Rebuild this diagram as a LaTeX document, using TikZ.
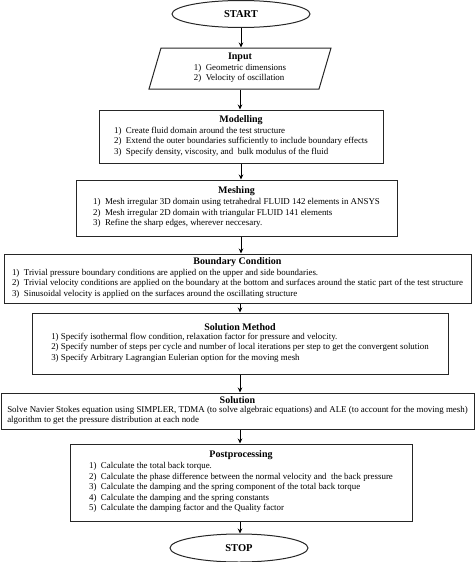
\documentclass[tikz,border=0pt]{standalone}
\usepackage{fontspec}
\setmainfont{Liberation Serif}
\usetikzlibrary{shapes.geometric,arrows.meta}
\begin{document}
\begin{tikzpicture}[x=1pt,y=-1pt,
  box/.style={draw=black!85,line width=1pt,rectangle,inner sep=0pt,align=center,
    font=\fontsize{8.9}{10.5}\selectfont},
  term/.style={draw=black!85,line width=1pt,ellipse,inner sep=0pt,
    font=\fontsize{10.5}{11}\selectfont\bfseries},
  flow/.style={line width=0.8pt,-{Stealth[length=5pt,width=4.5pt]}}]
\newcommand{\ttl}[1]{{\fontsize{10}{11}\selectfont\bfseries #1}\\[0.5pt]}
\useasboundingbox (0,0) rectangle (474,562);
\node[term,minimum width=138pt,minimum height=27pt] (start) at (241,14) {START};
\node[box,draw=none,minimum width=170pt,minimum height=41pt] (input) at (240,68.5)
  {\ttl{Input}
   \begin{tabular}{@{}l@{}}1)\ \ Geometric dimensions\\2)\ \ Velocity of oscillation\end{tabular}};
\draw[draw=black!85,line width=1pt] (161,48) -- (331,48) -- (319,89) -- (149,89) -- cycle;
\node[box,minimum width=284pt,minimum height=53pt] (model) at (241,136.5)
  {\ttl{Modelling}
   \begin{tabular}{@{}l@{}}1)\ \ Create fluid domain around the test structure\\
   2)\ \ Extend the outer boundaries sufficiently to include boundary effects\\
   3)\ \ Specify density, viscosity, and\ \ bulk modulus of the fluid\end{tabular}};
\node[box,minimum width=321pt,minimum height=56pt] (mesh) at (236.5,208)
  {\ttl{Meshing}
   \begin{tabular}{@{}l@{}}1)\ \ Mesh irregular 3D domain using tetrahedral FLUID 142 elements in ANSYS\\
   2)\ \ Mesh irregular 2D domain with triangular FLUID 141 elements\\
   3)\ \ Refine the sharp edges, wherever neccesary.\end{tabular}};
\node[box,minimum width=467pt,minimum height=49pt] (bc) at (237.5,278.5)
  {\ttl{Boundary Condition}
   \begin{tabular}{@{}l@{}}1)\ \ Trivial pressure boundary conditions are applied on the upper and side boundaries.\\
   2)\ \ Trivial velocity conditions are applied on the boundary at the bottom and surfaces around the static part of the test structure\\
   3)\ \ Sinusoidal velocity is applied on the surfaces around the oscillating structure\end{tabular}};
\node[box,minimum width=416pt,minimum height=61pt] (sm) at (240,343.5)
  {\ttl{Solution Method}
   \begin{tabular}{@{}l@{}}1) Specify isothermal flow condition, relaxation factor for pressure and velocity.\\
   2) Specify number of steps per cycle and number of local iterations per step to get the convergent solution\\
   3) Specify Arbitrary Lagrangian Eulerian option for the moving mesh\end{tabular}};
\node[box,minimum width=473pt,minimum height=36pt] (sol) at (237.5,411)
  {{\fontsize{10}{10}\selectfont\bfseries Solution}\\[0pt]
   \begin{tabular}{@{}l@{}}Solve Navier Stokes equation using SIMPLER, TDMA (to solve algebraic equations) and ALE (to account for the moving mesh)\\[-0.5pt]
   algorithm to get the pressure distribution at each node\end{tabular}};
\node[box,minimum width=342pt,minimum height=77pt] (post) at (241,482.5)
  {\ttl{Postprocessing}
   \begin{tabular}{@{}l@{}}1)\ \ Calculate the total back torque.\\
   2)\ \ Calculate the phase difference between the normal velocity and\ \ the back pressure\\
   3)\ \ Calculate the damping and the spring component of the total back torque\\
   4)\ \ Calculate the damping and the spring constants\\
   5)\ \ Calculate the damping factor and the Quality factor\end{tabular}};
\node[term,minimum width=138pt,minimum height=28pt] (stop) at (239,548) {STOP};
\draw[flow] (start.south) -- (start.south |- input.north);
\draw[flow] (input.south) -- (input.south |- model.north);
\draw[flow] (model.south) -- (model.south |- mesh.north);
\draw[flow] (model.south |- mesh.south) -- (model.south |- bc.north);
\draw[flow] (sm.north |- bc.south) -- (sm.north);
\draw[flow] (sm.south) -- (sm.south |- sol.north);
\draw[flow] (sm.south |- sol.south) -- (sm.south |- post.north);
\draw[flow] (sm.south |- post.south) -- (sm.south |- stop.north);
\end{tikzpicture}
\end{document}
